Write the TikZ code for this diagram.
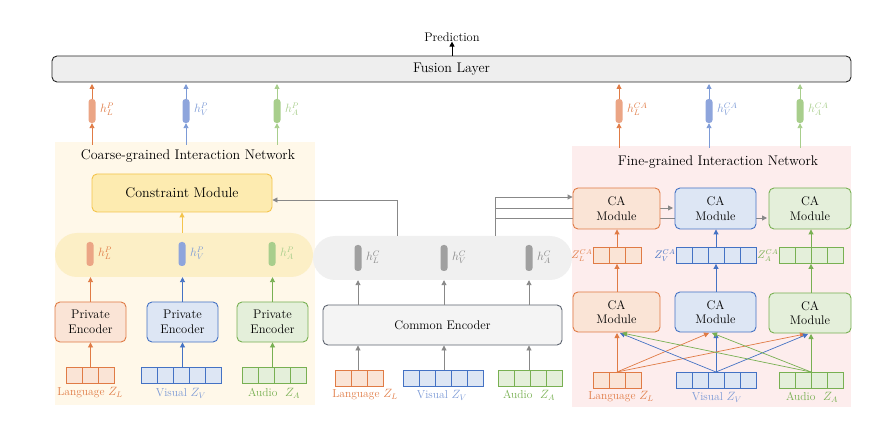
\documentclass[tikz,border=0pt]{standalone}
\usetikzlibrary{arrows.meta,calc}
\definecolor{oD}{HTML}{E07B45}\definecolor{oF}{HTML}{FAE4D6}\definecolor{oP}{HTML}{EBA585}
\definecolor{bD}{HTML}{4472C4}\definecolor{bF}{HTML}{DDE6F4}\definecolor{bP}{HTML}{8EA5DC}
\definecolor{gD}{HTML}{78B052}\definecolor{gF}{HTML}{E4EFDA}\definecolor{gP}{HTML}{A8CE8C}
\definecolor{bL}{HTML}{7C9AD6}\definecolor{gL}{HTML}{A8CE8C}
\definecolor{grD}{HTML}{888888}\definecolor{grP}{HTML}{A0A0A0}
\definecolor{yPan}{HTML}{FFF8E9}\definecolor{pPan}{HTML}{FDEDED}
\definecolor{yCap}{HTML}{FCEFC6}\definecolor{yBox}{HTML}{FDEBB0}\definecolor{yD}{HTML}{F4C44C}
\definecolor{gCap}{HTML}{F0F0F0}\definecolor{fus}{HTML}{EEEEEE}\definecolor{ceD}{HTML}{5D6470}
\tikzset{
  x=1pt,y=-1pt,
  every node/.style={font=\fontsize{14}{16}\selectfont},
  box/.style={draw,rounded corners=5pt,line width=0.9pt,align=center,inner sep=0pt,font=\fontsize{12.5}{14.5}\selectfont},
  pill/.style={rounded corners=3pt,minimum width=7pt,minimum height=24pt,inner sep=0pt},
  arr/.style={-{Triangle[length=5pt,width=5pt]},line width=0.9pt},
  lbl/.style={font=\fontsize{11.5}{13}\selectfont,inner sep=1pt},
  zl/.style={font=\fontsize{10.5}{12}\selectfont,inner sep=0.5pt},
}
\newcommand{\cellrow}[6]{%
  \node[draw=#5,fill=#6,line width=0.9pt,minimum width=#4*16pt,minimum height=16pt,inner sep=0pt,anchor=north west] (#1) at (#2,#3) {};
  \foreach \k in {1,...,#4}{\ifnum\k<#4\draw[#5,line width=0.9pt] ($(#1.north west)+(\k*16,0)$) -- ++(0,16);\fi}%
}
\begin{document}
\begin{tikzpicture}
\useasboundingbox (0,0) rectangle (894,446);
\fill[yPan] (55,142) rectangle (315,405);
\fill[pPan] (572,146) rectangle (851,407);
\node[box,draw=black!85,fill=fus,minimum width=799pt,minimum height=26pt,font=\fontsize{14}{16}\selectfont] (fus) at (451.5,69) {Fusion Layer};
\node[inner sep=0pt,font=\fontsize{12.5}{14}\selectfont] (pred) at (452,37) {Prediction};
\draw[arr,black] (fus.north -| pred) -- (pred.south);
\foreach \n/\x/\d/\p/\t in {pL/92/oD/oP/L,pV/186/bL/bP/V,pA/277/gL/gP/A}{
  \node[pill,fill=\p] (\n) at (\x,111) {};
  \node[lbl,text=\d,anchor=west] at (\x+7,109) {$h_{\t}^{P}$};
  \coordinate (\n s) at (\x,145);
  \draw[arr,\d] (\n s) -- (\n.south);
  \draw[arr,\d] (\n.north) -- (\x,84);
}
\foreach \n/\x/\d/\p/\t in {cL/619/oD/oP/L,cV/709/bL/bP/V,cA/800/gL/gP/A}{
  \node[pill,fill=\p] (\n) at (\x,111) {};
  \node[lbl,text=\d,anchor=west] at (\x+7,109) {$h_{\t}^{CA}$};
  \coordinate (\n s) at (\x,148);
  \draw[arr,\d] (\n s) -- (\n.south);
  \draw[arr,\d] (\n.north) -- (\x,84);
}
% coarse
\node (ct) at (188,156) {Coarse-grained Interaction Network};
\node[box,draw=yD,fill=yBox,minimum width=180pt,minimum height=38pt,font=\fontsize{14}{16}\selectfont] (cm) at (182,193) {Constraint Module};
\node[fill=yCap,rounded corners=22pt,minimum width=258pt,minimum height=44pt,inner sep=0pt] (ycap) at (184,255) {};
\draw[arr,yD] (ycap.north -| cm) -- (cm.south);
\foreach \n/\x/\d/\p/\t in {qL/90/oD/oP/L,qV/182/bL/bP/V,qA/272/gL/gP/A}{
  \node[pill,fill=\p] (\n) at (\x,254) {};
  \node[lbl,text=\d,anchor=west] at (\x+7,253) {$h_{\t}^{P}$};
}
\node[box,draw=oD,fill=oF,minimum width=71pt,minimum height=40pt] (peL) at (90.5,322) {Private\\Encoder};
\node[box,draw=bD,fill=bF,minimum width=71pt,minimum height=40pt] (peV) at (182.5,322) {Private\\Encoder};
\node[box,draw=gD,fill=gF,minimum width=71pt,minimum height=40pt] (peA) at (272.5,322) {Private\\Encoder};
\draw[arr,oD] (peL.north) -- (peL.north |- ycap.south);
\draw[arr,bD] (peV.north) -- (peV.north |- ycap.south);
\draw[arr,gD] (peA.north) -- (peA.north |- ycap.south);
\cellrow{iL1}{66}{367}{3}{oD}{oF}
\cellrow{iV1}{141}{367}{5}{bD}{bF}
\cellrow{iA1}{242}{367}{4}{gD}{gF}
\draw[arr,oD] (iL1.north -| peL) -- (peL.south);
\draw[arr,bD] (iV1.north -| peV) -- (peV.south);
\draw[arr,gD] (iA1.north -| peA) -- (peA.south);
\node[lbl,text=oD] at (90,393) {Language $Z_L$};
\node[lbl,text=bL] at (181,393) {Visual $Z_V$};
\node[lbl,text=gD] at (274,393) {Audio\ \ $Z_A$};
% common
\node[fill=gCap,rounded corners=22pt,minimum width=259pt,minimum height=44pt,inner sep=0pt] (gcap) at (442.5,258) {};
\foreach \n/\x/\t in {rL/358/L,rV/444/V,rA/529/A}{
  \node[pill,fill=grP,minimum height=26pt] (\n) at (\x,258) {};
  \node[lbl,text=grD,anchor=west] at (\x+7,257) {$h_{\t}^{C}$};
}
\node[box,draw=ceD,fill=gCap!70!white,minimum width=239pt,minimum height=40pt] (ce) at (442.5,325) {Common Encoder};
\foreach \n in {rL,rV,rA}{\draw[arr,grD] (ce.north -| \n) -- (gcap.south -| \n);}
\cellrow{iL2}{335}{370}{3}{oD}{oF}
\cellrow{iV2}{403}{370}{5}{bD}{bF}
\cellrow{iA2}{498}{370}{4}{gD}{gF}
\draw[arr,grD] (iL2.north -| rL) -- (ce.south -| rL);
\draw[arr,grD] (iV2.north -| rV) -- (ce.south -| rV);
\draw[arr,grD] (iA2.north -| rA) -- (ce.south -| rA);
\node[lbl,text=oD] at (365,395) {Language $Z_L$};
\node[lbl,text=bL] at (442,395) {Visual $Z_V$};
\node[lbl,text=gD] at (529,395) {Audio\ \ $Z_A$};
% fine
\node (ft) at (718,162) {Fine-grained Interaction Network};
\coordinate (j1) at (397,236);
\coordinate (j2) at (495,236);
\draw[arr,grD] (j1) -- (397,200) -- (cm.east |- 0,200);
\draw[grD,line width=0.9pt] (j2) -- (495,197);
\draw[arr,grD] (495,208) -- (673,208);
\draw[arr,grD] (495,218) -- (767,218);
\node[box,draw=oD,fill=oF,minimum width=87pt,minimum height=41pt] (t1) at (616.5,208.5) {CA\\Module};
\node[box,draw=bD,fill=bF,minimum width=81pt,minimum height=41pt] (t2) at (715.5,208.5) {CA\\Module};
\node[box,draw=gD,fill=gF,minimum width=82pt,minimum height=41pt] (t3) at (810,208.5) {CA\\Module};
\draw[arr,grD] (495,197) -- (t1.west |- 0,197);
\cellrow{zL}{593}{247}{3}{oD}{oF}
\cellrow{zV}{676}{247}{5}{bD}{bF}
\cellrow{zA}{779}{247}{4}{gD}{gF}
\node[zl,text=oD,anchor=east] at (zL.west) {$Z_L^{CA}$};
\node[zl,text=bD,anchor=east] at (zV.west) {$Z_V^{CA}$};
\node[zl,text=gD,anchor=east] at (zA.west) {$Z_A^{CA}$};
\node[box,draw=oD,fill=oF,minimum width=87pt,minimum height=40pt] (b1) at (616.5,312) {CA\\Module};
\node[box,draw=bD,fill=bF,minimum width=81pt,minimum height=40pt] (b2) at (715.5,312) {CA\\Module};
\node[box,draw=gD,fill=gF,minimum width=82pt,minimum height=40pt] (b3) at (810,313) {CA\\Module};
\draw[arr,oD] (zL.north -| 617,0) -- (t1.south -| 617,0);
\draw[arr,bD] (zV.north -| 716,0) -- (t2.south -| 716,0);
\draw[arr,gD] (zA.north -| 811,0) -- (t3.south -| 811,0);
\draw[arr,oD] (b1.north -| 617,0) -- (zL.south -| 617,0);
\draw[arr,bD] (b2.north -| 716,0) -- (zV.south -| 716,0);
\draw[arr,gD] (b3.north -| 811,0) -- (zA.south -| 811,0);
\cellrow{iL3}{593}{372}{3}{oD}{oF}
\cellrow{iV3}{676}{372}{5}{bD}{bF}
\cellrow{iA3}{779}{372}{4}{gD}{gF}
\coordinate (sL) at (617,372); \coordinate (sV) at (716,372); \coordinate (sA) at (811,372);
\draw[arr,oD] (sL) -- (617,333);
\draw[arr,bD] (sV) -- (716,333);
\draw[arr,gD] (sA) -- (811,334);
\draw[arr,oD,line width=0.7pt] (sL) -- (709,333);
\draw[arr,oD,line width=0.7pt] (sL) -- (805,334);
\draw[arr,bD,line width=0.7pt] (sV) -- (620,333);
\draw[arr,bD,line width=0.7pt] (sV) -- (808,334);
\draw[arr,gD,line width=0.7pt] (sA) -- (622,333);
\draw[arr,gD,line width=0.7pt] (sA) -- (712,333);
\node[lbl,text=oD] at (621,397) {Language $Z_L$};
\node[lbl,text=bL] at (717,397) {Visual $Z_V$};
\node[lbl,text=gD] at (812,397) {Audio\ \ $Z_A$};
\end{tikzpicture}
\end{document}
